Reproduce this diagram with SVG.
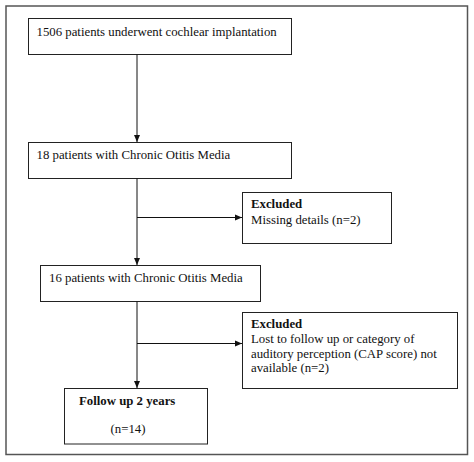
<svg xmlns="http://www.w3.org/2000/svg" width="474" height="462" viewBox="0 0 474 462">
<style>
.box{fill:#fff;stroke:#222;stroke-width:1}
.frame{fill:#fff;stroke:#555;stroke-width:1.5}
text{font-family:"Liberation Serif","Times New Roman",serif;font-size:12.8px;fill:#111}
.b{font-weight:bold}
.conn{stroke:#111;stroke-width:1;fill:none}
</style>
<defs>
<marker id="ah" markerWidth="8" markerHeight="8" refX="7" refY="4" orient="auto" markerUnits="userSpaceOnUse">
<path d="M0,1 L7,4 L0,7 z" fill="#111"/>
</marker>
</defs>
<rect class="frame" x="6" y="6" width="461.5" height="448.5"/>
<g id="n1"><rect class="box" x="28.5" y="18.5" width="263" height="36"/><text x="36.5" y="36">1506 patients underwent cochlear implantation</text></g>
<g id="n2"><rect class="box" x="28.5" y="142.5" width="263" height="36"/><text x="36.5" y="158.5">18 patients with Chronic Otitis Media</text></g>
<g id="n3"><rect class="box" x="242.5" y="192.5" width="149" height="51"/><text class="b" x="251" y="208">Excluded</text><text x="251" y="224">Missing details (n=2)</text></g>
<g id="n4"><rect class="box" x="40.5" y="265.5" width="220" height="36"/><text x="49" y="282">16 patients with Chronic Otitis Media</text></g>
<g id="n5"><rect class="box" x="242.5" y="312.5" width="215" height="76"/><text class="b" x="251" y="327.5">Excluded</text><text x="251" y="343">Lost to follow up or category of</text><text x="251" y="357.5">auditory perception (CAP score) not</text><text x="251" y="372">available (n=2)</text></g>
<g id="n6"><rect class="box" x="64.5" y="388.5" width="143" height="55.5"/><text class="b" x="79" y="405">Follow up 2 years</text><text x="110.5" y="432.5">(n=14)</text></g>
<g id="connectors">
<line class="conn" x1="137" y1="54.5" x2="137" y2="142" marker-end="url(#ah)"/>
<line class="conn" x1="137" y1="178.5" x2="137" y2="265" marker-end="url(#ah)"/>
<line class="conn" x1="137" y1="217.5" x2="242" y2="217.5" marker-end="url(#ah)"/>
<line class="conn" x1="137" y1="301.5" x2="137" y2="388" marker-end="url(#ah)"/>
<line class="conn" x1="137" y1="343.5" x2="242" y2="343.5" marker-end="url(#ah)"/>
</g>
</svg>
